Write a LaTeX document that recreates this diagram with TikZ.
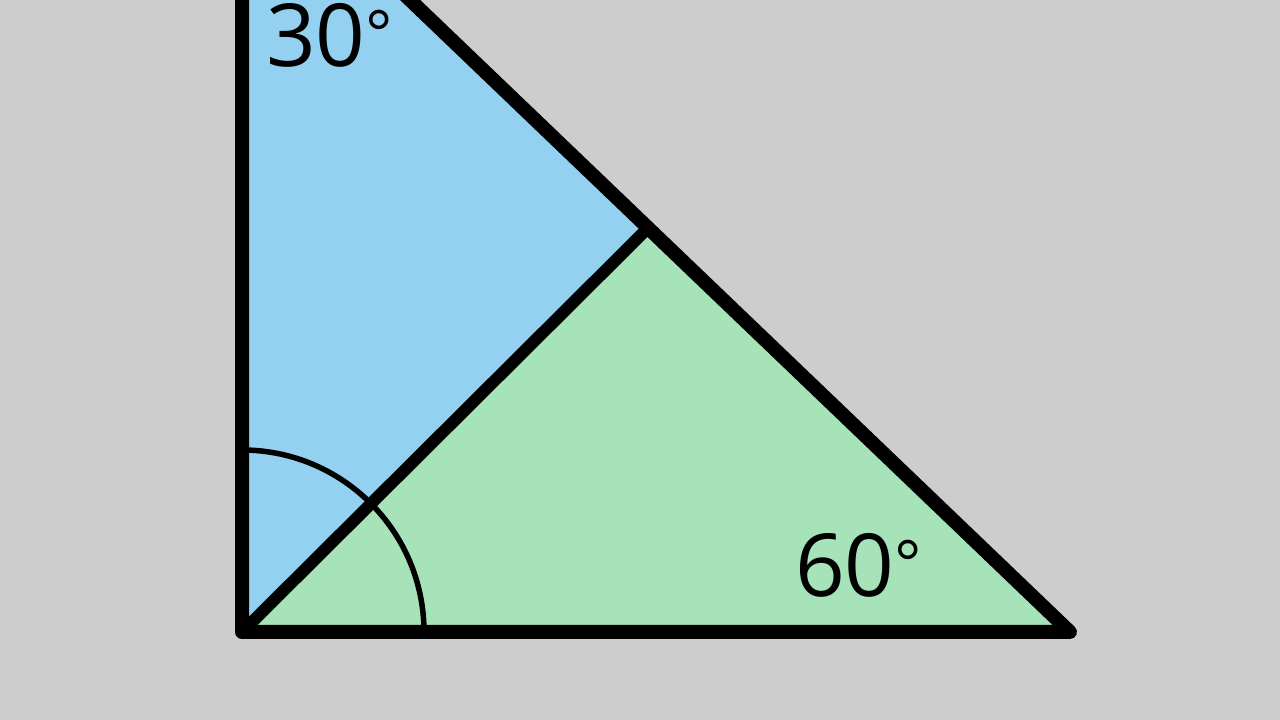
\documentclass[tikz,border=0pt]{standalone}
\usepackage{fontspec}
\setmainfont{Open Sans}
\definecolor{bgc}{RGB}{205,205,205}
\definecolor{bluefill}{RGB}{148,209,240}
\definecolor{greenfill}{RGB}{166,227,185}
\newcommand{\degsym}{{\fontsize{64}{64}\selectfont\raisebox{10pt}{°}}}
\begin{document}
\begin{tikzpicture}[x=1pt,y=1pt,
  edge/.style={line width=14pt,line join=round,line cap=round},
  inner/.style={line width=12pt,line cap=round},
  arcline/.style={line width=5.5pt},
  lbl/.style={font=\fontsize{87}{87}\selectfont,inner sep=0pt,anchor=base west}]
\useasboundingbox (0,0) rectangle (1280,720);
\fill[bgc] (0,0) rectangle (1280,720);
\clip (0,0) rectangle (1280,720);
\coordinate (A) at (242,88);
\coordinate (B) at (1070,88);
\coordinate (C) at (242,881);
\coordinate (D) at (648,492);
\fill[bluefill] (A) -- (D) -- (C) -- cycle;
\fill[greenfill] (A) -- (B) -- (D) -- cycle;
\draw[arcline] (A) ++(182,0) arc[start angle=0,end angle=90,radius=182];
\draw[inner] (A) -- (D);
\draw[edge] (C) -- (A) -- (B) -- cycle;
\node[lbl] (t30) at (266,653) {30\degsym};
\node[lbl] (t60) at (795,123) {60\degsym};
\end{tikzpicture}
\end{document}
